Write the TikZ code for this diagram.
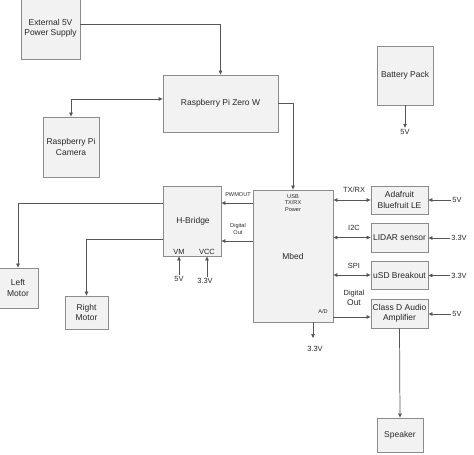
\documentclass[tikz,border=0pt]{standalone}
\usepackage{fontspec}
\setmainfont{Liberation Sans}
\usetikzlibrary{arrows.meta,shadows}
\definecolor{boxfill}{RGB}{242,242,242}
\definecolor{boxline}{RGB}{140,140,140}
\definecolor{wire}{RGB}{85,85,85}
\definecolor{txt}{RGB}{40,40,40}
\begin{document}
\begin{tikzpicture}[x=0.75pt,y=-0.75pt,
  box/.style={draw=boxline,fill=boxfill,line width=0.6pt,inner sep=0pt,align=center,text=txt,
    font=\fontsize{6.35pt}{7.7pt}\selectfont,
    drop shadow={shadow xshift=1.1pt,shadow yshift=-1.1pt,fill=black!40,opacity=0.6}},
  boxtext/.style={inner sep=0pt,align=center,text=txt,font=\fontsize{6.35pt}{7.7pt}\selectfont},
  lbl/.style={inner sep=1pt,align=center,text=txt,font=\fontsize{5.6pt}{6.6pt}\selectfont},
  tiny/.style={inner sep=0pt,align=center,text=txt,font=\fontsize{4.2pt}{4.9pt}\selectfont},
  arr/.style={draw=wire,line width=0.55pt,-{Triangle[width=2.6pt,length=3pt]}},
  darr/.style={draw=wire,line width=0.55pt,{Triangle[width=2.6pt,length=3pt]}-{Triangle[width=2.6pt,length=3pt]}}]
\useasboundingbox (0,0) rectangle (474,454);
% boxes
\node[box,minimum width=59*0.75pt,minimum height=62*0.75pt] (ext) at (50.5,28) {External 5V\\Power Supply};
\node[box,minimum width=115*0.75pt,minimum height=57*0.75pt] (rpi) at (220.5,103.5) {Raspberry Pi Zero W};
\node[box,minimum width=56*0.75pt,minimum height=60*0.75pt] (cam) at (71,147) {Raspberry Pi\\Camera};
\node[box,minimum width=56*0.75pt,minimum height=59*0.75pt] (bat) at (405,75.5) {Battery Pack};
\node[box,minimum width=58*0.75pt,minimum height=70*0.75pt] (hb) at (192,221) {};
\node[box,minimum width=80*0.75pt,minimum height=132*0.75pt] (mbed) at (293,256) {};
\node[box,minimum width=40*0.75pt,minimum height=40*0.75pt] (lm) at (18,288) {Left\\Motor};
\node[box,minimum width=43*0.75pt,minimum height=33*0.75pt] (rm) at (86.5,312.5) {Right\\Motor};
\node[box,minimum width=57*0.75pt,minimum height=28*0.75pt] (ada) at (399.5,200) {Adafruit\\Bluefruit LE};
\node[box,minimum width=57*0.75pt,minimum height=29*0.75pt] (lid) at (399.5,237.5) {LIDAR sensor};
\node[box,minimum width=57*0.75pt,minimum height=28*0.75pt] (usd) at (399.5,275) {uSD Breakout};
\node[box,minimum width=57*0.75pt,minimum height=29*0.75pt] (cls) at (399.5,313.5) {Class D Audio\\Amplifier};
\node[box,minimum width=46*0.75pt,minimum height=34*0.75pt] (spk) at (400,435) {Speaker};
% texts inside boxes
\node[boxtext] (hbt) at (193,221) {H-Bridge};
\node[lbl] (vm) at (179,252) {VM};
\node[lbl] (vcc) at (207,252) {VCC};
\node[boxtext] (mbt) at (293,256) {Mbed};
\node[tiny] (usb) at (293,203) {USB\\TX/RX\\Power};
\node[tiny] (ad) at (323,311) {A/D};
% labels
\node[lbl] (b5) at (405,132) {5V};
\node[lbl] (m33) at (315,349) {3.3V};
\node[lbl] (h5) at (179,279) {5V};
\node[lbl] (h33) at (205,281) {3.3V};
\node[tiny] (pwm) at (238,195) {PWMOUT};
\node[tiny] (dig1) at (238,229) {Digital\\Out};
\node[lbl] (txrx) at (354,190) {TX/RX};
\node[lbl] (i2c) at (354,228) {I2C};
\node[lbl] (spi) at (354,266) {SPI};
\node[lbl] (dig2) at (354,294) {Digital};
\node[lbl,font=\fontsize{6.3pt}{7pt}\selectfont] (out2) at (354,303) {Out};
\node[lbl] (a5) at (457,200) {5V};
\node[lbl] (l33) at (459,238) {3.3V};
\node[lbl] (u33) at (459,275.5) {3.3V};
\node[lbl] (c5) at (457,314) {5V};
% helper coordinates
\coordinate (m33t) at (313,338);
\path ([yshift=3pt]ext.east) coordinate (extout)
      ([yshift=3.4pt]rpi.west) coordinate (rpicam)
      ([yshift=13.5pt]hb.east) coordinate (hbpwm)
      ([yshift=-15pt]hb.east) coordinate (hbdig)
      ([yshift=13.5pt]hb.west) coordinate (hbl)
      ([yshift=-13.5pt]hb.west) coordinate (hbr)
      ([yshift=-2.6pt]cls.west) coordinate (clsin);
% connectors
\draw[arr] (extout) -| (rpi.north);
\draw[darr] (rpicam) -| (cam.north);
\draw[arr] (bat.south) -- (b5.north);
\draw[arr] (rpi.east) -| (mbed.north);
\draw[arr] (mbed.south -| m33t) -- (m33t);
\draw[arr] (hbpwm -| mbed.west) -- (hbpwm);
\draw[arr] (hbdig -| mbed.west) -- (hbdig);
\draw[arr] (hbl) -| (lm.north);
\draw[arr] (hbr) -| (rm.north);
\draw[arr] (h5.north) -- (h5.north |- hb.south);
\draw[arr] (h33.north -| vcc) -- (vcc |- hb.south);
\draw[darr] (ada.west -| mbed.east) -- (ada.west);
\draw[darr] (lid.west -| mbed.east) -- (lid.west);
\draw[darr] (usd.west -| mbed.east) -- (usd.west);
\draw[arr] (clsin -| mbed.east) -- (clsin);
\draw[arr] (a5.west) -- (a5.west -| ada.east);
\draw[arr] (l33.west) -- (l33.west -| lid.east);
\draw[arr] (u33.west) -- (u33.west -| usd.east);
\draw[arr] (c5.west) -- (c5.west -| cls.east);
\draw[arr] (cls.south) -- (spk.north);
\end{tikzpicture}
\end{document}
